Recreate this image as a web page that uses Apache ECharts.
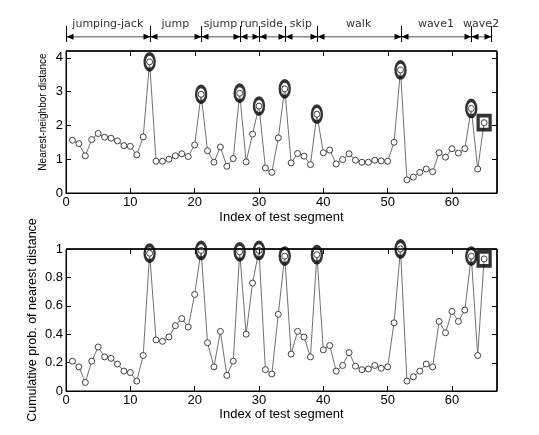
<!DOCTYPE html>
<html>
<head>
<meta charset="utf-8">
<script src="https://cdn.jsdelivr.net/npm/echarts@6/dist/echarts.min.js"></script>
<style>
  html, body { margin: 0; padding: 0; background: #fff; }
  #chart { width: 539px; height: 435px; }
</style>
</head>
<body>
<div id="chart"></div>
<script>
// 最近邻距离
const dist = [1.56,1.46,1.10,1.58,1.76,1.65,1.62,1.54,1.40,1.38,1.13,1.66,
  3.88,
  0.94,0.94,1.00,1.10,1.16,1.08,1.42,
  2.92,
  1.25,0.91,1.36,0.79,1.02,
  2.95,
  0.92,1.74,
  2.57,
  0.74,0.61,1.63,
  3.08,
  0.89,1.17,1.09,0.84,
  2.33,
  1.19,1.27,0.86,0.99,1.16,0.97,0.91,0.91,0.97,0.95,0.94,1.50,
  3.64,
  0.39,0.47,0.61,0.71,0.63,1.19,1.06,1.31,1.18,1.31,
  2.50,
  0.71,2.08]
// 累积概率
const cumProb = [0.21,0.17,0.06,0.21,0.31,0.24,0.23,0.19,0.14,0.13,0.07,0.25,
  0.97,
  0.36,0.35,0.38,0.46,0.51,0.45,0.68,
  0.99,
  0.34,0.17,0.42,0.11,0.21,
  0.98,
  0.40,0.76,
  0.99,
  0.15,0.12,0.54,
  0.95,
  0.26,0.42,0.38,0.24,
  0.96,
  0.29,0.32,0.14,0.18,0.27,0.175,0.15,0.155,0.18,0.16,0.17,0.48,
  1.00,
  0.07,0.10,0.14,0.19,0.17,0.49,0.41,0.56,0.49,0.57,
  0.95,
  0.25,0.93]
const ellipseIdx = [13,21,27,30,34,39,52,63]
const squareIdx = [65]
const segNames = ['jumping-jack','jump','sjump','run','side','skip','walk','wave1','wave2']
const segStart = [0,13,21,27,30,34,39,52,63]
const segEnd = [13,21,27,30,34,39,52,63,66]
const xTicks = [0,10,20,30,40,50,60]
const yTicksTop = [0,1,2,3,4]
const yTicksBottom = [0,0.2,0.4,0.6,0.8,1]
const xMax = 67

const font = "'Liberation Sans', Arial, sans-serif"
const toXY = arr => arr.map((v, i) => [i + 1, v])
const pick = (arr, idx) => idx.map(i => [i, arr[i - 1]])
const crisp = v => Math.round(v) + 0.5

const myChart = echarts.init(document.getElementById('chart'))

function xAx(grid, name, gap) {
  return {
    type: 'value', gridIndex: grid, min: 0, max: xMax, interval: 10,
    name: name, nameLocation: 'middle', nameGap: gap,
    nameTextStyle: { fontFamily: font, fontSize: 13, color: '#000' },
    axisLine: { show: true, onZero: false, lineStyle: { color: '#000', width: 1 } },
    axisTick: { show: true, inside: true, length: 5, lineStyle: { color: '#000' } },
    axisLabel: { showMaxLabel: false, margin: 3, fontFamily: font, fontSize: 13, color: '#000' },
    splitLine: { show: false }
  }
}
function yAx(grid, max, interval) {
  return {
    type: 'value', gridIndex: grid, min: 0, max: max, interval: interval,
    axisLine: { show: true, onZero: false, lineStyle: { color: '#000', width: 1 } },
    axisTick: { show: true, inside: true, length: 5, lineStyle: { color: '#000' } },
    axisLabel: { showMaxLabel: max === 1, margin: 3, fontFamily: font, fontSize: 13, color: '#000' },
    splitLine: { show: false }
  }
}

function lineSeries(x, y, data) {
  return {
    type: 'line', xAxisIndex: x, yAxisIndex: y, data: data,
    symbol: 'circle', symbolSize: 6, showAllSymbol: true,
    lineStyle: { color: '#707070', width: 1 },
    itemStyle: { color: '#fff', borderColor: '#404040', borderWidth: 1 },
    emphasis: { disabled: true }, animation: false
  }
}
function markSeries(x, y, data, symbol, size, bw) {
  return {
    type: 'scatter', xAxisIndex: x, yAxisIndex: y, data: data,
    symbol: symbol, symbolSize: size, z: 5,
    itemStyle: { color: 'rgba(0,0,0,0)', borderColor: '#000', borderWidth: bw },
    emphasis: { disabled: true }, animation: false
  }
}

// 上边框和右边框（含向内刻度）
function frameSeries(x, y, yMax, yTicks) {
  return {
    type: 'custom', xAxisIndex: x, yAxisIndex: y, data: [[0, 0]], silent: true, clip: false, z: 10,
    renderItem: function (params, api) {
      const tl = api.coord([0, yMax]), br = api.coord([xMax, 0])
      const top = Math.round(tl[1]), right = Math.round(br[0])
      const st = { stroke: '#000', lineWidth: 1.5 }
      const kids = [
        { type: 'line', shape: { x1: tl[0], y1: top, x2: right, y2: top }, style: st },
        { type: 'line', shape: { x1: right, y1: top, x2: right, y2: br[1] }, style: st }
      ]
      xTicks.forEach(t => {
        const px = crisp(api.coord([t, yMax])[0])
        kids.push({ type: 'line', shape: { x1: px, y1: top, x2: px, y2: top + 5 }, style: { stroke: '#000', lineWidth: 1 } })
      })
      yTicks.forEach(t => {
        const py = crisp(api.coord([xMax, t])[1])
        kids.push({ type: 'line', shape: { x1: right, y1: py, x2: right - 5, y2: py }, style: { stroke: '#000', lineWidth: 1 } })
      })
      return { type: 'group', children: kids }
    }
  }
}

// 顶部活动分段标注
function renderSeg(params, api) {
  const a = api.value(0), b = api.value(1), k = api.value(2)
  const s0 = api.coord([a, 0]), s1 = api.coord([a, 1])
  const e0 = api.coord([b, 0]), e1 = api.coord([b, 1])
  const sx = crisp(s0[0]), ex = crisp(e0[0])
  const ya = api.coord([a, 0.33])[1]
  const yt = api.coord([a, 1.12])[1]
  return {
    type: 'group',
    children: [
      { type: 'line', shape: { x1: sx, y1: ya, x2: ex, y2: ya }, style: { stroke: '#8a8a8a', lineWidth: 1.5 } },
      { type: 'line', shape: { x1: sx, y1: s0[1], x2: sx, y2: s1[1] }, style: { stroke: '#000', lineWidth: 1 } },
      { type: 'line', shape: { x1: ex, y1: e0[1], x2: ex, y2: e1[1] }, style: { stroke: '#000', lineWidth: 1 } },
      { type: 'polygon', shape: { points: [[sx, ya], [sx + 7, ya - 3], [sx + 7, ya + 3]] }, style: { fill: '#000' } },
      { type: 'polygon', shape: { points: [[ex, ya], [ex - 7, ya - 3], [ex - 7, ya + 3]] }, style: { fill: '#000' } },
      { type: 'text', style: { text: segNames[k], x: (s0[0] + e0[0]) / 2, y: yt, align: 'center', verticalAlign: 'middle',
        font: "11px 'DejaVu Sans', sans-serif", fill: '#333' } }
    ]
  }
}

myChart.setOption({
  animation: false,
  grid: [
    { left: 66, right: 42, top: 51, height: 142, show: true, borderColor: '#000', borderWidth: 1, backgroundColor: 'rgba(0,0,0,0)' },
    { left: 66, right: 42, top: 249, height: 142, show: true, borderColor: '#000', borderWidth: 1, backgroundColor: 'rgba(0,0,0,0)' },
    { left: 66, right: 42, top: 26, height: 16 }
  ],
  xAxis: [
    xAx(0, 'Index of test segment', 18),
    xAx(1, 'Index of test segment', 17),
    { type: 'value', gridIndex: 2, min: 0, max: xMax, show: false }
  ],
  yAxis: [
    yAx(0, 4.2, 1),
    yAx(1, 1, 0.2),
    { type: 'value', gridIndex: 2, min: 0, max: 1, show: false }
  ],
  graphic: [
    { type: 'text', x: 43, y: 112, rotation: Math.PI / 2,
      style: { text: 'Nearest-neighbor distance', align: 'center', verticalAlign: 'middle', font: '10px ' + font, fill: '#000' } },
    { type: 'text', x: 33, y: 320, rotation: Math.PI / 2,
      style: { text: 'Cumulative prob. of nearest distance', align: 'center', verticalAlign: 'middle', font: '12.5px ' + font, fill: '#000' } }
  ],
  series: [
    frameSeries(0, 0, 4.2, yTicksTop),
    lineSeries(0, 0, toXY(dist)),
    markSeries(0, 0, pick(dist, ellipseIdx), 'circle', [10, 16], 3),
    markSeries(0, 0, pick(dist, squareIdx), 'rect', [12, 14], 3.5),
    frameSeries(1, 1, 1, yTicksBottom),
    lineSeries(1, 1, toXY(cumProb)),
    markSeries(1, 1, pick(cumProb, ellipseIdx), 'circle', [10, 16], 3),
    markSeries(1, 1, pick(cumProb, squareIdx), 'rect', [12, 14], 3.5),
    {
      type: 'custom', xAxisIndex: 2, yAxisIndex: 2,
      data: segStart.map((s, i) => [s, segEnd[i], i]),
      renderItem: renderSeg, silent: true, clip: false
    }
  ]
})
</script>
</body>
</html>
